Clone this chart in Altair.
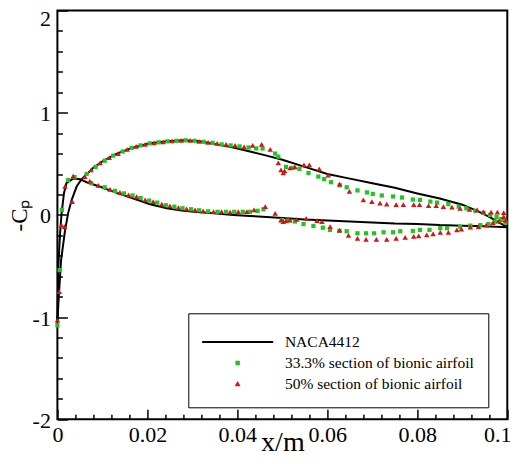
import altair as alt
import pandas as pd

FONT = "Liberation Serif"

series_names = ["NACA4412", "33.3% section of bionic airfoil", "50% section of bionic airfoil"]
series_colors = ["black", "#22c422", "#d41515"]
series_shapes = ["M-28.4,0H28.4", "square", "triangle-up"]

x_major = [0, 0.02, 0.04, 0.06, 0.08, 0.1]
x_minor = [round(i * 0.004, 3) for i in range(26) if i % 5]
y_major = [-2, -1, 0, 1, 2]
y_minor = [round(-2 + i * 0.2, 1) for i in range(21) if i % 5]

# NACA4412, black line
naca_upper_x = [0.0, 0.0003, 0.0008, 0.0017, 0.0024, 0.0032, 0.0043, 0.0054,
                0.008, 0.0102, 0.0132, 0.0169, 0.0206, 0.0243, 0.028, 0.0317,
                0.0354, 0.0391, 0.0428, 0.0465, 0.05, 0.055, 0.06, 0.065,
                0.07, 0.075, 0.08, 0.085, 0.09, 0.0933, 0.096, 0.098, 0.1]
naca_upper_cp = [-1.05, -0.8, -0.45, -0.15, 0.02, 0.15, 0.28, 0.35,
                 0.46, 0.53, 0.6, 0.66, 0.70, 0.72, 0.73, 0.72,
                 0.69, 0.66, 0.62, 0.58, 0.54, 0.47, 0.40, 0.355,
                 0.31, 0.265, 0.21, 0.16, 0.10, 0.04, -0.02, -0.07, -0.12]
naca_lower_x = [0.0, 0.0002, 0.0006, 0.0009, 0.00145, 0.002, 0.0035, 0.005, 0.0065, 0.0095,
                0.0132, 0.0169, 0.0206, 0.0243, 0.028, 0.0317, 0.0354, 0.0391, 0.0428, 0.0465,
                0.05, 0.055, 0.06, 0.065, 0.07, 0.075, 0.08, 0.085, 0.09, 0.095, 0.1]
naca_lower_cp = [-1.05, -0.5, -0.18, 0.0, 0.21, 0.31, 0.355, 0.35, 0.32, 0.275,
                 0.215, 0.16, 0.105, 0.065, 0.04, 0.026, 0.013, 0.0, -0.01, -0.02,
                 -0.03, -0.045, -0.055, -0.065, -0.075, -0.085, -0.09, -0.1, -0.105, -0.11, -0.12]

# 33.3% section, green squares
green_upper_x = [0.0, 0.0005, 0.001, 0.0024, 0.0038, 0.0065, 0.0085, 0.0105, 0.0124, 0.0145,
                 0.0165, 0.0185, 0.0205, 0.0225, 0.0245, 0.0265, 0.0285, 0.0305, 0.0325, 0.0345,
                 0.0365, 0.0385, 0.0405, 0.0425, 0.0442, 0.0456, 0.0484, 0.0491, 0.0508, 0.0523,
                 0.0538, 0.0558, 0.058, 0.0593, 0.0608, 0.0628, 0.0643, 0.0667, 0.0688, 0.0701,
                 0.0721, 0.0746, 0.0766, 0.079, 0.0806, 0.0829, 0.0844, 0.0869, 0.0892, 0.0909,
                 0.0929, 0.0947, 0.0962, 0.0976, 0.0988, 0.0996]
green_upper_cp = [-1.08, -0.54, 0.05, 0.34, 0.37, 0.40, 0.47, 0.53, 0.58, 0.62,
                  0.655, 0.68, 0.70, 0.71, 0.72, 0.725, 0.73, 0.725, 0.715, 0.705,
                  0.69, 0.68, 0.67, 0.66, 0.65, 0.65, 0.6, 0.57, 0.47, 0.46,
                  0.45, 0.41, 0.375, 0.35, 0.32, 0.29, 0.27, 0.24, 0.22, 0.205,
                  0.19, 0.18, 0.17, 0.15, 0.147, 0.13, 0.12, 0.105, 0.08, 0.065,
                  0.04, 0.02, 0.0, -0.02, -0.05, -0.075]
green_lower_x = [0.0075, 0.0105, 0.0128, 0.0148, 0.0167, 0.0185, 0.0204, 0.0222, 0.0241, 0.026,
                 0.0278, 0.0297, 0.0315, 0.0335, 0.0356, 0.0375, 0.0393, 0.0412, 0.0428, 0.0445,
                 0.0458, 0.0499, 0.0511, 0.0528, 0.0547, 0.0569, 0.059, 0.0606, 0.0627, 0.0643,
                 0.0667, 0.0686, 0.0704, 0.0725, 0.0746, 0.0762, 0.079, 0.0806, 0.0827, 0.0851,
                 0.0866, 0.0895, 0.0918, 0.094, 0.0958, 0.0973, 0.0986]
green_lower_cp = [0.31, 0.27, 0.235, 0.21, 0.19, 0.165, 0.14, 0.12, 0.095, 0.08,
                  0.065, 0.055, 0.045, 0.035, 0.03, 0.03, 0.03, 0.03, 0.03, 0.04,
                  0.055, -0.05, -0.055, -0.065, -0.09, -0.108, -0.125, -0.147, -0.157, -0.16,
                  -0.18, -0.18, -0.18, -0.17, -0.17, -0.16, -0.157, -0.147, -0.147, -0.13,
                  -0.13, -0.115, -0.105, -0.1, -0.09, -0.065, -0.04]

# 50% section, red triangles
red_upper_x = [0.0, 0.0004, 0.0009, 0.0016, 0.0033, 0.0061, 0.0075, 0.0095, 0.0115, 0.0135,
               0.0155, 0.0175, 0.0195, 0.0215, 0.0235, 0.0255, 0.0275, 0.0295, 0.0315, 0.0335,
               0.0355, 0.0375, 0.0395, 0.0415, 0.0434, 0.0454, 0.0473, 0.0491, 0.0497, 0.0502,
               0.0505, 0.0517, 0.0528, 0.0548, 0.056, 0.0582, 0.0602, 0.0627, 0.0649, 0.068,
               0.0699, 0.0717, 0.0732, 0.0753, 0.0769, 0.0792, 0.0805, 0.0825, 0.0842, 0.0858,
               0.0877, 0.0895, 0.0916, 0.0933, 0.0947, 0.0964, 0.0978, 0.0992, 0.0996]
red_upper_cp = [-1.03, -0.75, -0.1, -0.115, 0.13, 0.375, 0.44, 0.51, 0.56, 0.60,
                0.64, 0.67, 0.69, 0.705, 0.715, 0.725, 0.73, 0.73, 0.72, 0.71,
                0.70, 0.69, 0.68, 0.665, 0.68, 0.69, 0.64, 0.51, 0.44, 0.41,
                0.43, 0.46, 0.47, 0.49, 0.49, 0.45, 0.39, 0.30, 0.23, 0.147,
                0.13, 0.115, 0.105, 0.1, 0.1, 0.1, 0.1, 0.09, 0.09, 0.08,
                0.075, 0.065, 0.055, 0.05, 0.03, 0.026, 0.026, 0.023, -0.05]
red_lower_x = [0.0017, 0.0035, 0.0072, 0.0091, 0.0117, 0.0139, 0.0158, 0.0176, 0.0195, 0.0213,
               0.0232, 0.025, 0.0269, 0.0287, 0.0306, 0.0324, 0.0347, 0.0365, 0.0384, 0.0402,
               0.0421, 0.0437, 0.0462, 0.0484, 0.0497, 0.0502, 0.0508, 0.0517, 0.0532, 0.0553,
               0.0577, 0.0588, 0.0606, 0.0627, 0.0647, 0.0667, 0.0686, 0.0709, 0.0732, 0.0753,
               0.0773, 0.0792, 0.0803, 0.0821, 0.0835, 0.0851, 0.0869, 0.0888, 0.0898, 0.0918,
               0.0936, 0.0953, 0.0968, 0.0981, 0.0992]
red_lower_cp = [0.28, 0.38, 0.33, 0.29, 0.25, 0.22, 0.196, 0.18, 0.147, 0.13,
                0.105, 0.088, 0.072, 0.059, 0.05, 0.04, 0.033, 0.033, 0.026, 0.033,
                0.033, 0.05, 0.08, 0.016, -0.05, -0.065, -0.055, -0.05, -0.043, -0.033,
                -0.055, -0.065, -0.115, -0.15, -0.2, -0.23, -0.24, -0.24, -0.24, -0.23,
                -0.22, -0.21, -0.205, -0.196, -0.186, -0.17, -0.17, -0.147, -0.14, -0.12,
                -0.115, -0.1, -0.075, -0.06, -0.016]


def frame(xs, cps, series, surface):
    return pd.DataFrame({'x': xs, 'cp': cps, 'series': series, 'surface': surface})


line_df = pd.concat([frame(naca_upper_x, naca_upper_cp, series_names[0], 'upper'),
                     frame(naca_lower_x, naca_lower_cp, series_names[0], 'lower')])
green_df = pd.concat([frame(green_upper_x, green_upper_cp, series_names[1], 'upper'),
                      frame(green_lower_x, green_lower_cp, series_names[1], 'lower')])
red_df = pd.concat([frame(red_upper_x, red_upper_cp, series_names[2], 'upper'),
                    frame(red_lower_x, red_lower_cp, series_names[2], 'lower')])

x_scale = alt.Scale(domain=[0, 0.1], nice=False, zero=False)
y_scale = alt.Scale(domain=[-2, 2], nice=False, zero=False)

legend = alt.Legend(
    title=' ', titleFontSize=5, titlePadding=2,
    orient='none', legendX=130.9, legendY=302.8,
    padding=14, rowPadding=4,
    strokeColor='black', fillColor='white',
    labelFont=FONT, labelFontSize=15.5, labelColor='black', labelLimit=400,
    symbolOffset=27.6, labelOffset=39.5,
    symbolSize=6.25, symbolStrokeWidth=2, symbolOpacity=1,
)
color = alt.Color('series:N', scale=alt.Scale(domain=series_names, range=series_colors), legend=legend)
shape = alt.Shape('series:N', scale=alt.Scale(domain=series_names, range=series_shapes), legend=legend)


def tick_axis(orient, values, size):
    # ticks only, pulled inside the frame
    return alt.Axis(orient=orient, values=values, offset=-size, tickSize=size, tickWidth=1.5,
                    tickColor='black', labels=False, domain=False, grid=False, title=None)


x_label_axis = alt.Axis(
    orient='bottom', values=x_major, ticks=False, tickSize=0, domain=False, grid=False,
    labelFont=FONT, labelFontSize=22, labelColor='black', labelPadding=5, labelFlush=False,
    labelExpr="'' + datum.value",
    labelOffset={'condition': {'test': 'datum.value == 0.1', 'value': -10}, 'value': 0},
    title='x/m', titleFont=FONT, titleFontSize=28, titleFontWeight='normal', titleColor='black',
    titleBaseline='alphabetic', titleAlign='center', titleX=225, titleY=30.7,
)
y_label_axis = alt.Axis(
    orient='left', values=y_major, ticks=False, tickSize=0, domain=False, grid=False,
    labelFont=FONT, labelFontSize=22, labelColor='black', labelPadding=7, labelFlush=False,
    labelExpr="'' + datum.value",
    labelOffset={'condition': {'test': 'datum.value == 2', 'value': 7.5}, 'value': 1},
    title='-Cₚ', titleFont=FONT, titleFontSize=23, titleFontWeight='normal', titleColor='black',
    titleAngle=270, titleBaseline='alphabetic', titleAlign='center', titleX=-31, titleY=204.5,
)

lines = alt.Chart(line_df).mark_line(strokeWidth=2).encode(
    alt.X('x:Q', scale=x_scale, axis=x_label_axis),
    alt.Y('cp:Q', scale=y_scale, axis=y_label_axis),
    color=color,
    detail='surface:N',
    order='x:Q',
)
green = alt.Chart(green_df).mark_point(filled=True, size=18, opacity=1).encode(
    alt.X('x:Q', scale=x_scale, axis=tick_axis('bottom', x_major, 10)),
    alt.Y('cp:Q', scale=y_scale, axis=tick_axis('left', y_major, 10)),
    color=color,
    shape=shape,
)
red = alt.Chart(red_df).mark_point(filled=True, size=30, opacity=1).encode(
    alt.X('x:Q', scale=x_scale, axis=tick_axis('bottom', x_minor, 5)),
    alt.Y('cp:Q', scale=y_scale, axis=tick_axis('left', y_minor, 5)),
    color=color,
    shape=shape,
)

# svg kept at 504 x 448 so the page with its 8px margins fits the window unscaled
chart = alt.layer(lines, green, red).resolve_axis(
    x='independent', y='independent'
).properties(
    width=449.9,
    height=408.8,
    padding={'left': 49.4, 'top': 2.5, 'right': 4.7, 'bottom': 36.7},
    autosize=alt.AutoSizeParams(type='none'),
).configure_view(
    stroke='black', strokeWidth=2
)

chart.save("out.html", embed_options={"renderer": "svg", "actions": False})
